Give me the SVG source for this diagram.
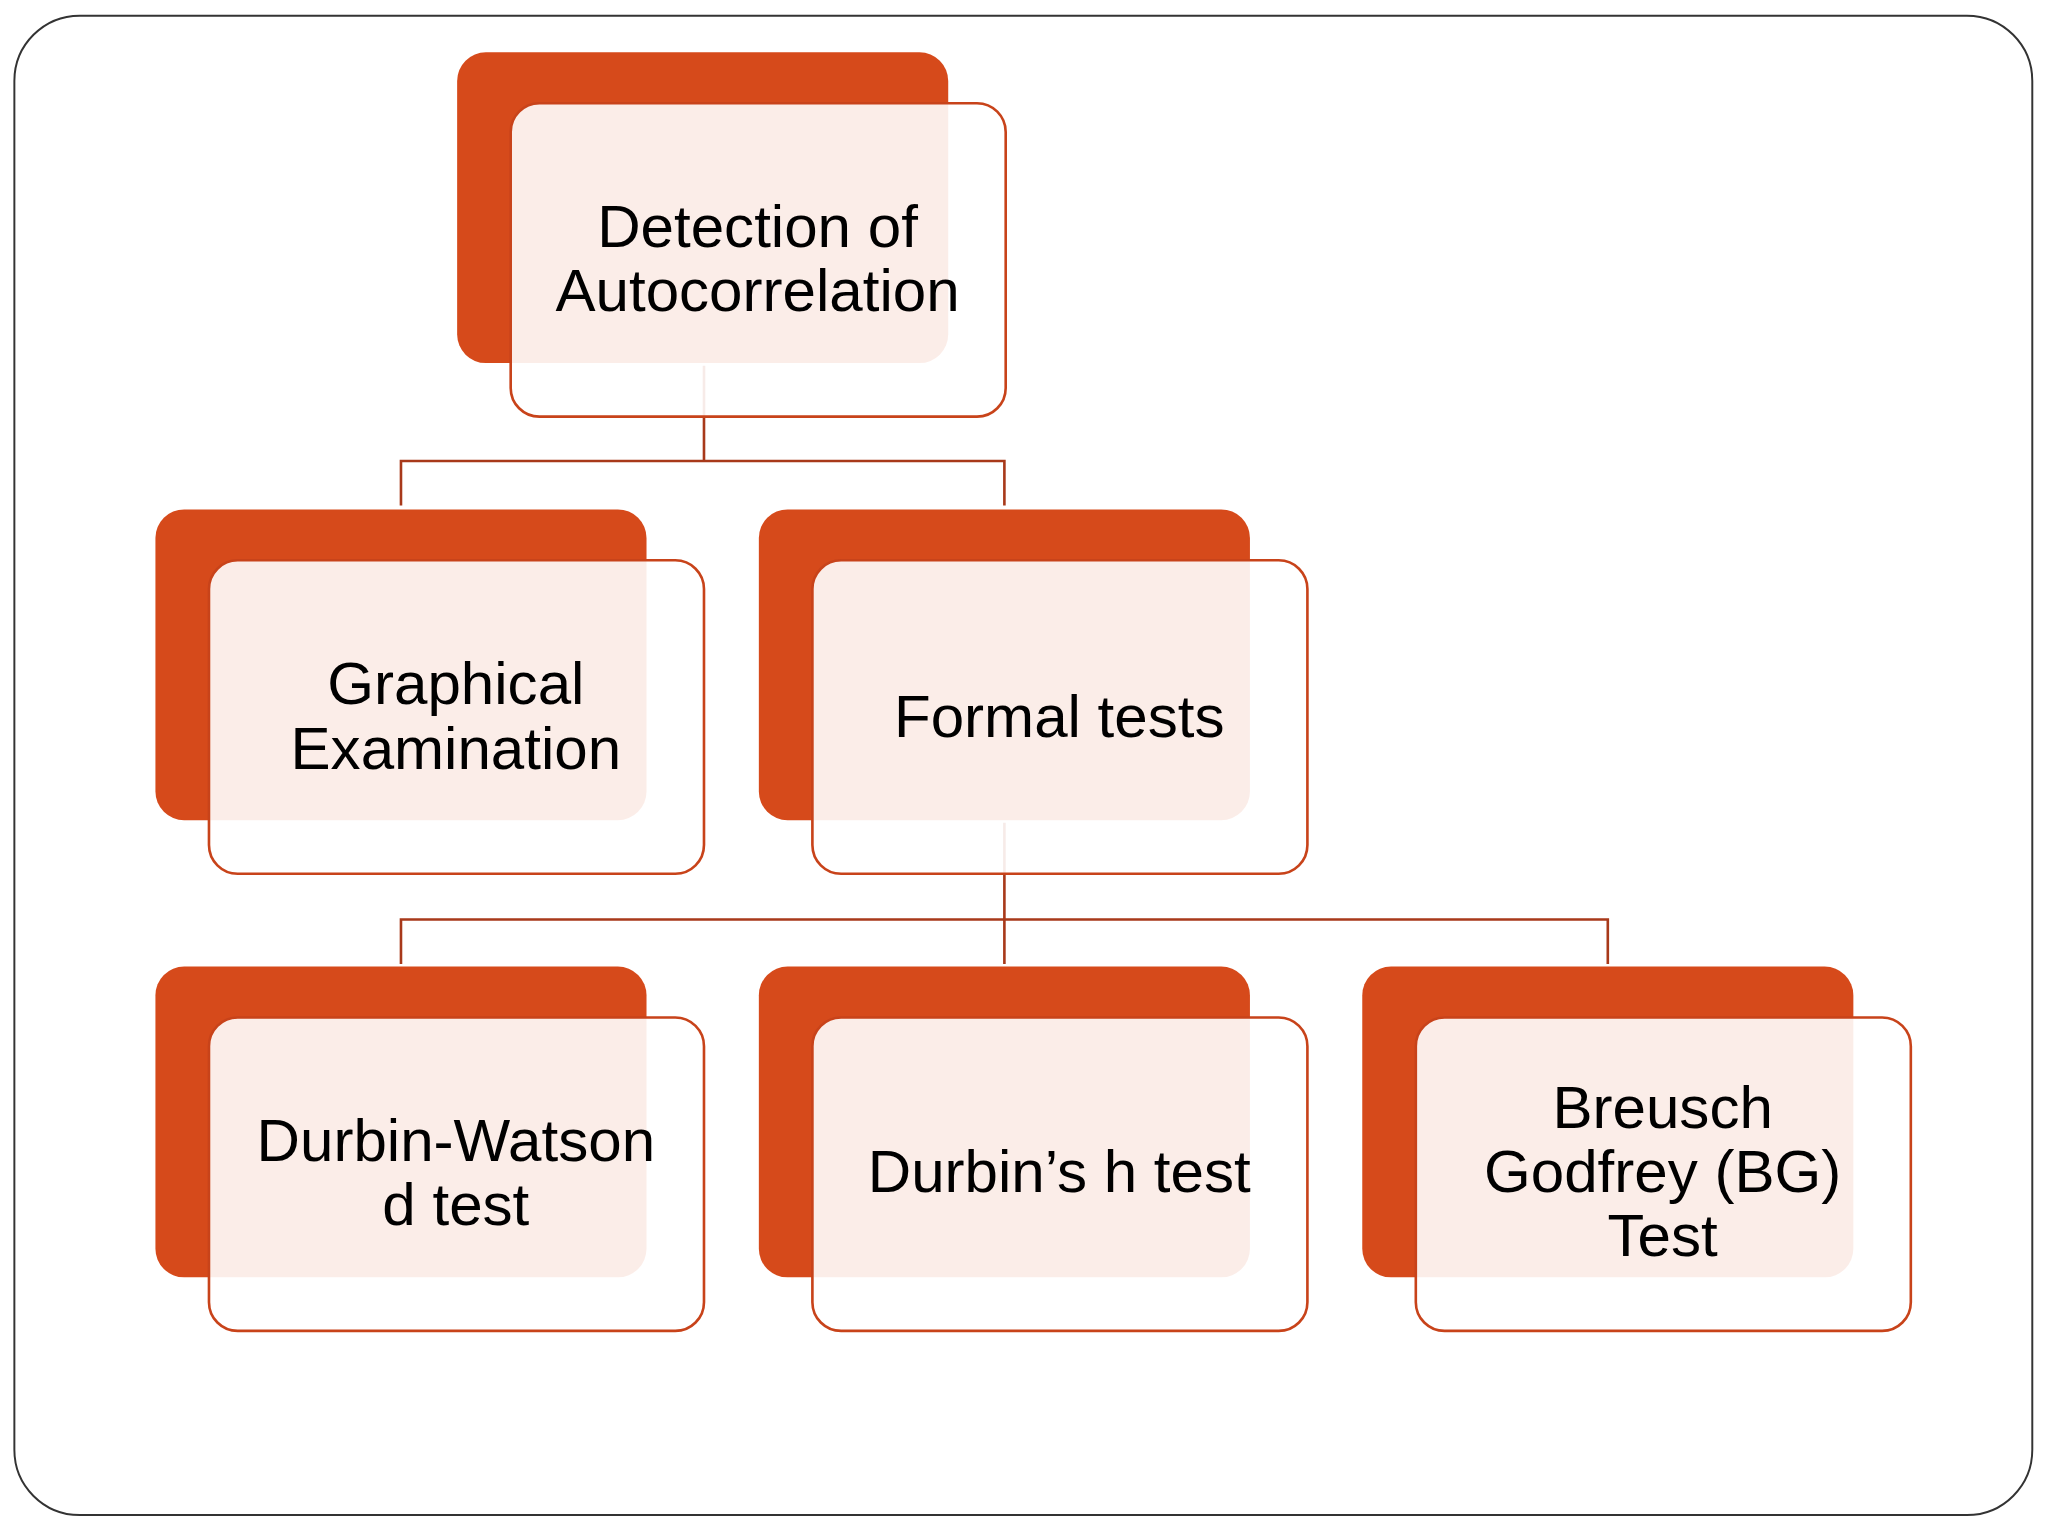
<svg xmlns="http://www.w3.org/2000/svg" width="2048" height="1536" viewBox="0 0 2048 1536">
<style>
.bk{fill:#D64A1B}
.fr{fill:#FFFFFF;fill-opacity:0.9;stroke:#C8431A;stroke-width:2}
.t{font-family:"Liberation Sans",Arial,sans-serif;font-size:46px;fill:#000;text-anchor:middle}
.c{fill:none;stroke:#A8391A;stroke-width:2}
</style>
<rect width="2048" height="1536" fill="#fff"/>
<g transform="scale(1.3061)">
<rect x="11" y="12" width="1545" height="1148" rx="50" fill="#fff" stroke="#333" stroke-width="1.5"/>
<g id="connectors">
<path class="c" d="M539 280V353M307 387V353H769V387"/>
<path class="c" d="M769 630V704M307 738V704H1231V738M769 704V738"/>
</g>
<g id="n1"><rect class="bk" x="350" y="40" width="376" height="238" rx="22"/><rect class="fr" x="391" y="79" width="379" height="240" rx="22"/>
<text class="t" x="580" y="189">Detection of</text><text class="t" x="580" y="238">Autocorrelation</text></g>
<g id="n2"><rect class="bk" x="119" y="390" width="376" height="238" rx="22"/><rect class="fr" x="160" y="429" width="379" height="240" rx="22"/>
<text class="t" x="349" y="539">Graphical</text><text class="t" x="349" y="589">Examination</text></g>
<g id="n3"><rect class="bk" x="581" y="390" width="376" height="238" rx="22"/><rect class="fr" x="622" y="429" width="379" height="240" rx="22"/>
<text class="t" x="811" y="564">Formal tests</text></g>
<g id="n4"><rect class="bk" x="119" y="740" width="376" height="238" rx="22"/><rect class="fr" x="160" y="779" width="379" height="240" rx="22"/>
<text class="t" x="349" y="889">Durbin-Watson</text><text class="t" x="349" y="938">d test</text></g>
<g id="n5"><rect class="bk" x="581" y="740" width="376" height="238" rx="22"/><rect class="fr" x="622" y="779" width="379" height="240" rx="22"/>
<text class="t" x="811" y="913">Durbin’s h test</text></g>
<g id="n6"><rect class="bk" x="1043" y="740" width="376" height="238" rx="22"/><rect class="fr" x="1084" y="779" width="379" height="240" rx="22"/>
<text class="t" x="1273" y="864">Breusch</text><text class="t" x="1273" y="913">Godfrey (BG)</text><text class="t" x="1273" y="962">Test</text></g>
</g>
</svg>
